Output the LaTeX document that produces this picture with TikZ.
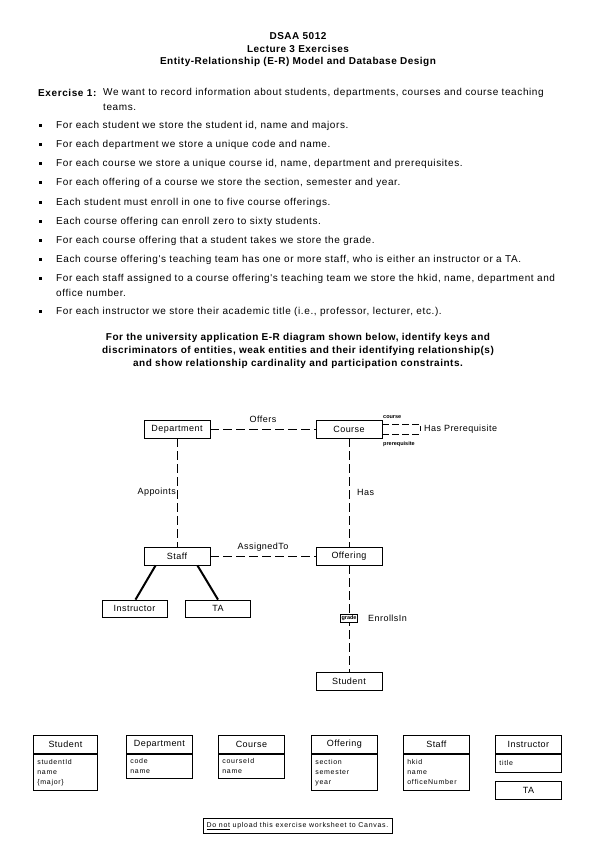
\documentclass[tikz,border=0pt]{standalone}
\usepackage{fontspec}
\setmainfont{Liberation Sans}[Ligatures=TeXOff]
\begin{document}
\begin{tikzpicture}[x=1pt,y=-1pt,
  ttl/.style={inner sep=0pt,font=\fontsize{10}{12}\selectfont\bfseries\addfontfeatures{LetterSpace=5}},
  body/.style={anchor=west,inner sep=0pt,font=\fontsize{10}{12}\selectfont\addfontfeatures{LetterSpace=6}},
  bul/.style={fill=black},
  ent/.style={draw,line width=0.8pt,minimum width=66pt,minimum height=18pt,inner sep=0pt,font=\fontsize{9}{11}\selectfont\addfontfeatures{LetterSpace=5}},
  sub/.style={draw,line width=0.8pt,minimum width=65pt,minimum height=17pt,inner sep=0pt,font=\fontsize{9}{11}\selectfont\addfontfeatures{LetterSpace=5}},
  rel/.style={line width=0.8pt,dash pattern=on 9pt off 4pt},
  isa/.style={line width=2pt},
  lbl/.style={inner sep=0pt,font=\fontsize{9}{11}\selectfont\addfontfeatures{LetterSpace=5}},
  tiny/.style={inner sep=0pt,font=\fontsize{5.5}{6}\selectfont\bfseries},
  thd/.style={draw,line width=0.8pt,anchor=north west,minimum height=18pt,inner sep=0pt,font=\fontsize{9}{11}\selectfont\addfontfeatures{LetterSpace=5}},
  tbd/.style={draw,line width=0.8pt,anchor=north west,inner xsep=4pt,inner ysep=0pt,align=left,font=\fontsize{7}{10}\selectfont\addfontfeatures{LetterSpace=10}}
]
\fill[white] (0,0) rectangle (596,842);
\useasboundingbox (0,0) rectangle (596,842);

% Title
\node[ttl] (t1) at (298,36) {DSAA 5012};
\node[ttl] (t2) at (298,49) {Lecture 3 Exercises};
\node[ttl] (t3) at (298,62) {Entity-Relationship (E-R) Model and Database Design};

% Exercise text
\node[body,font=\fontsize{10}{12}\selectfont\bfseries\addfontfeatures{LetterSpace=6}] (ex) at (38,93) {Exercise 1:};
\node[body] (ex1) at (103,93) {We want to record information about students, departments, courses and course teaching};
\node[body] (ex2) at (103,107) {teams.};

\foreach \y/\t [count=\i] in {
  126/{For each student we store the student id, name and majors.},
  145/{For each department we store a unique code and name.},
  164/{For each course we store a unique course id, name, department and prerequisites.},
  183/{For each offering of a course we store the section, semester and year.},
  203/{Each student must enroll in one to five course offerings.},
  222/{Each course offering can enroll zero to sixty students.},
  241/{For each course offering that a student takes we store the grade.},
  260/{Each course offering's teaching team has one or more staff, who is either an instructor or a TA.},
  279/{For each staff assigned to a course offering's teaching team we store the hkid, name, department and},
  312/{For each instructor we store their academic title (i.e., professor, lecturer, etc.).}}
{
  \fill[bul] (39,\y-2) rectangle (41.5,\y+1);
  \node[body] (b\i) at (56,\y) {\t};
}
\node[body] (b9b) at (56,293) {office number.};

% Bold paragraph
\node[ttl] (p1) at (298,338) {For the university application E-R diagram shown below, identify keys and};
\node[ttl] (p2) at (298,351) {discriminators of entities, weak entities and their identifying relationship(s)};
\node[ttl] (p3) at (298,364) {and show relationship cardinality and participation constraints.};

% Diagram entities
\node[ent] (dept) at (177,429) {Department};
\node[ent] (course) at (349,429) {Course};
\node[ent] (staff) at (177,556) {Staff};
\node[ent] (off) at (349,556) {Offering};
\node[ent] (stud) at (349,681.5) {Student};
\node[sub] (instr) at (134.5,608.5) {Instructor};
\node[sub] (ta) at (218,608.5) {TA};

% Relationships
\draw[rel] (dept.east) -- (course.west);
\node[lbl] (offers) at (263,419) {Offers};
\draw[rel] (dept.south) -- (staff.north);
\node[lbl,anchor=east] (appoints) at (176,492) {Appoints};
\draw[rel] (course.south) -- (off.north);
\node[lbl,anchor=west] (has) at (357,492) {Has};
\draw[rel] (staff.east) -- (off.west);
\node[lbl] (assigned) at (263,547) {AssignedTo};

% Has Prerequisite recursive
\coordinate (hpA) at ([yshift=5pt]course.east);
\coordinate (hpB) at ([yshift=-5pt]course.east);
\draw[line width=0.8pt,dash pattern=on 7pt off 3pt] (hpA) -- ++(38,0) -- ++(0,7);
\draw[line width=0.8pt,dash pattern=on 7pt off 3pt] (hpB) -- ++(38,0);
\node[tiny,anchor=west] (crs) at (383,417) {course};
\node[tiny,anchor=west] (preq) at (383,444) {prerequisite};
\node[lbl,anchor=west] (hasp) at (424,429) {Has Prerequisite};

% ISA lines
\draw[isa] ([xshift=12pt]staff.south west) -- ([xshift=1pt]instr.north);
\draw[isa] ([xshift=-13pt]staff.south east) -- (ta.north);

% EnrollsIn
\draw[rel] (off.south) -- (stud.north);
\node[tiny,draw,fill=white,line width=0.6pt,inner xsep=1pt,inner ysep=1.5pt] (grade) at (349,618) {grade};
\node[lbl,anchor=west] (enr) at (368,618) {EnrollsIn};

% Bottom tables
\node[thd,minimum width=64pt] (th1) at (33,735) {Student};
\node[tbd,text width=56pt,minimum height=36pt] (tb1) at (th1.south west) {studentId\\name\\\{major\}};
\node[thd,minimum width=66pt] (th2) at (126,735) {Department};
\node[tbd,text width=58pt,minimum height=24pt] (tb2) at (th2.south west) {code\\name};
\node[thd,minimum width=66pt] (th3) at (218,735) {Course};
\node[tbd,text width=58pt,minimum height=24pt] (tb3) at (th3.south west) {courseId\\name};
\node[thd,minimum width=66pt] (th4) at (311,735) {Offering};
\node[tbd,text width=58pt,minimum height=36pt] (tb4) at (th4.south west) {section\\semester\\year};
\node[thd,minimum width=66pt] (th5) at (403,735) {Staff};
\node[tbd,text width=58pt,minimum height=36pt] (tb5) at (th5.south west) {hkid\\name\\officeNumber};
\node[thd,minimum width=66pt] (th6) at (495,735) {Instructor};
\node[tbd,text width=58pt,minimum height=18pt] (tb6) at (th6.south west) {title};
\node[thd,minimum width=66pt] (ta2) at (495,781) {TA};

% Footer
\node[draw,line width=0.6pt,minimum width=189pt,minimum height=15pt,inner sep=0pt,font=\fontsize{7}{8}\selectfont\addfontfeatures{LetterSpace=10}] (foot) at (297.5,826) {\underline{Do not} upload this exercise worksheet to Canvas.};
\end{tikzpicture}
\end{document}
